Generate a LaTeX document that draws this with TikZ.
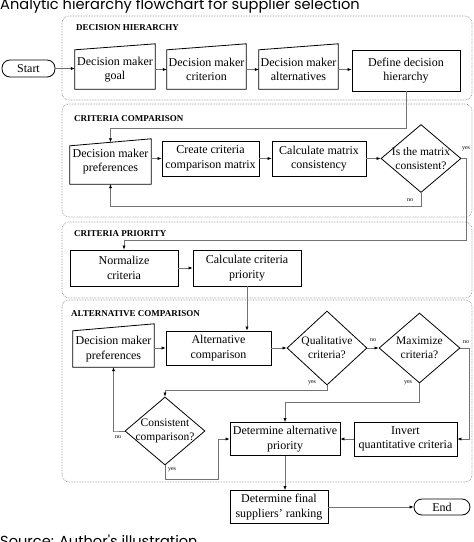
\documentclass[tikz,border=0pt]{standalone}
\usepackage{fontspec}
\setmainfont{Liberation Serif}
\newfontfamily\titlefont{Poppins}
\usetikzlibrary{shapes.geometric,arrows.meta,calc}
\begin{document}
\begin{tikzpicture}[x=1pt,y=-1pt,
  txt/.style={font=\fontsize{12}{14.5}\selectfont, align=center, inner sep=1pt},
  proc/.style={txt, draw=black, line width=0.8pt},
  io/.style={txt},
  dec/.style={txt, diamond, draw=black, line width=0.8pt, inner sep=-8pt, font=\fontsize{11.5}{14}\selectfont},
  term/.style={txt, draw=black, line width=0.8pt, rounded corners=8pt},
  shapeline/.style={draw=black, line width=0.8pt},
  conn/.style={draw=black!55, line width=0.6pt, -{Latex[length=4pt,width=3.2pt,color=black]}},
  sect/.style={draw=black!50, densely dotted, line width=0.6pt, rounded corners=7pt},
  seclabel/.style={font=\bfseries\fontsize{9}{10}\selectfont, anchor=west, inner sep=0pt},
  yn/.style={font=\fontsize{6}{7}\selectfont, inner sep=0pt},
  captext/.style={anchor=base west, inner sep=0pt, font=\titlefont\fontsize{14.6}{16}\selectfont}]

\useasboundingbox (0,0) rectangle (474,542);

% titles
\node[captext] (title) at (0,9.5) {Analytic hierarchy flowchart for supplier selection};
\node[captext] (source) at (0,546) {Source: Author's illustration};

% sections
\draw[sect] (62,16) rectangle (472,100);
\draw[sect] (62,104) rectangle (472,217);
\draw[sect] (62,222) rectangle (472,298);
\draw[sect] (62,300) rectangle (472,482);
\node[seclabel] (s1) at (76,28) {DECISION HIERARCHY};
\node[seclabel] (s2) at (74,119) {CRITERIA COMPARISON};
\node[seclabel] (s3) at (74,234) {CRITERIA PRIORITY};
\node[seclabel] (s4) at (71,314) {ALTERNATIVE COMPARISON};

% section 1
\node[term, minimum width=53pt, minimum height=17pt] (Start) at (28.5,68.5) {Start};
\node[io, minimum width=80pt, minimum height=39pt] (T1) at (115,69.5) {Decision maker\\goal};
\draw[shapeline] (T1.south west) -- (T1.south east) -- ([yshift=6pt]T1.north east) -- (T1.north west) -- cycle;
\node[io, minimum width=79pt, minimum height=39pt] (T2) at (206.5,69.5) {Decision maker\\criterion};
\draw[shapeline] (T2.south west) -- (T2.south east) -- ([yshift=6pt]T2.north east) -- (T2.north west) -- cycle;
\node[io, minimum width=79pt, minimum height=39pt] (T3) at (298.5,69.5) {Decision maker\\alternatives};
\draw[shapeline] (T3.south west) -- (T3.south east) -- ([yshift=6pt]T3.north east) -- (T3.north west) -- cycle;
\node[proc, minimum width=108pt, minimum height=41pt] (B4) at (406,70.5) {Define decision\\hierarchy};

% section 2
\node[io, minimum width=81pt, minimum height=45pt] (P1) at (110.5,161.5) {Decision maker\\preferences};
\draw[shapeline] (P1.south west) -- (P1.south east) -- (P1.north east) -- ([yshift=-7pt]P1.north west) coordinate (P1tl) -- cycle;
\coordinate (P1in) at ($(P1tl)!0.5!(P1.north east)$);
\node[proc, minimum width=97pt, minimum height=35pt] (C1) at (210.5,158.5) {Create criteria\\comparison matrix};
\node[proc, minimum width=94pt, minimum height=35pt] (C2) at (319,158.5) {Calculate matrix\\consistency};
\node[dec, minimum width=80pt, minimum height=68pt] (D1) at (421,158.5) {Is the matrix\\consistent?};

% section 3
\node[proc, minimum width=108pt, minimum height=36pt] (N1) at (124,268) {Normalize\\criteria};
\node[proc, minimum width=108pt, minimum height=36pt] (CP) at (247,268) {Calculate criteria\\priority};

% section 4
\node[io, minimum width=81pt, minimum height=36pt] (P2) at (113.5,349) {Decision maker\\preferences};
\draw[shapeline] (P2.south west) -- (P2.south east) -- ([yshift=7pt]P2.north east) -- (P2.north west) -- cycle;
\node[proc, minimum width=105pt, minimum height=34pt] (AC) at (218.5,348) {Alternative\\comparison};
\node[dec, minimum width=80pt, minimum height=74pt] (D2) at (327,348) {Qualitative\\criteria?};
\node[dec, minimum width=81pt, minimum height=70pt] (D3) at (419.5,348) {Maximize\\criteria?};
\node[dec, minimum width=80pt, minimum height=68pt] (D4) at (165,431) {Consistent\\comparison?};
\node[proc, minimum width=110pt, minimum height=33pt] (DA) at (285,439) {Determine alternative\\priority};
\node[proc, minimum width=103pt, minimum height=34pt] (Inv) at (405.5,439) {Invert\\quantitative criteria};
\node[proc, minimum width=98pt, minimum height=33pt] (FR) at (279,507) {Determine final\\suppliers' ranking};
\node[term, minimum width=56pt, minimum height=16pt] (End) at (442,507) {End};

% connectors
\draw[conn] (Start.east) -- (Start.east -| T1.west);
\draw[conn] (T1.east) -- (T2.west);
\draw[conn] (T2.east) -- (T3.west);
\draw[conn] (T3.east) -- (T3.east -| B4.west);
\draw[conn] (B4.south) -- ++(0,37) -| (P1in);
\draw[conn] (P1.east |- C1.west) -- (C1.west);
\draw[conn] (C1.east) -- (C2.west);
\draw[conn] (C2.east) -- (D1.west);
\draw[conn] (D1.east) -- ++(5,0) -- ++(0,81.5) -| (N1.north);
\node[yn] (y1) at (466,149) {yes};
\draw[conn] (D1.south) -- ++(0,13.5) -| (P1.south);
\node[yn] (n1) at (410,200) {no};
\draw[conn] (N1.east) -- (CP.west);
\draw[conn] (CP.south) -- (CP.south |- AC.north);
\draw[conn] (P2.east |- AC.west) -- (AC.west);
\draw[conn] (AC.east) -- (D2.west);
\draw[conn] (D2.east) -- (D3.west);
\node[yn] (n2) at (373,340) {no};
\draw[conn] (D3.east) -- ++(9,0) |- (Inv.east);
\node[yn] (n3) at (466,342) {no};
\draw[conn] (D2.south) -- ++(0,5) -| (D4.north);
\node[yn] (y2) at (312,383) {yes};
\draw[conn] (D3.south) -- ++(0,19) -| (DA.north);
\node[yn] (y3) at (408,383) {yes};
\draw[conn] (D4.west) -- ++(-11.5,0) -| (P2.south);
\node[yn] (n4) at (118,437) {no};
\draw[conn] (D4.south) -- ++(0,14) -- ++(53,0) |- (DA.west);
\node[yn] (y4) at (172,470) {yes};
\draw[conn] (Inv.west) -- (DA.east);
\draw[conn] (DA.south) -- (DA.south |- FR.north);
\draw[conn] (FR.east) -- (End.west);
\end{tikzpicture}
\end{document}
